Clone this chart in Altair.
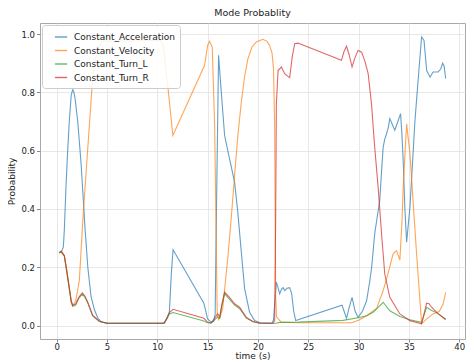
import altair as alt
import pandas as pd

series_names = ["Constant_Acceleration", "Constant_Velocity", "Constant_Turn_L", "Constant_Turn_R"]
series_colors = ["#1f77b4", "#ff7f0e", "#2ca02c", "#d62728"]

t_acc = [0.27, 0.5, 0.67, 0.77, 0.93, 1.1, 1.26, 1.45, 1.6, 1.72, 1.83, 2.1, 2.43, 2.83, 3.1, 3.42, 3.75, 4.1, 4.5, 5.0,
         10.5, 10.7, 11.0, 11.2, 11.4, 11.57, 14.63, 15.0, 15.35, 15.6, 15.75, 15.9, 16.09, 16.36, 16.69, 17.18, 17.68, 18.0,
         18.35, 18.68, 19.17, 19.67, 20.2, 21.4, 21.55, 21.7, 21.83, 22.0, 22.16, 22.35, 22.5, 22.66, 22.9, 23.15, 23.35,
         23.55, 23.75, 28.35, 28.55, 28.8, 29.05, 29.35, 29.65, 29.95, 30.4, 30.8, 31.1, 31.3, 31.6, 32.1, 32.3, 32.44,
         32.6, 32.78, 32.95, 33.1, 33.35, 33.6, 33.9, 34.17, 34.3, 34.43, 34.6, 34.77, 35.1, 35.6, 36.0, 36.26, 36.5,
         36.76, 37.1, 37.4, 37.9, 38.15, 38.35, 38.5, 38.65]
p_acc = [0.25, 0.255, 0.27, 0.33, 0.475, 0.6, 0.70, 0.79, 0.81, 0.8, 0.78, 0.70, 0.556, 0.33, 0.2, 0.1, 0.055, 0.025, 0.012, 0.008,
         0.008, 0.011, 0.025, 0.045, 0.18, 0.26, 0.077, 0.023, 0.012, 0.015, 0.04, 0.45, 0.927, 0.80, 0.652, 0.572, 0.492, 0.389,
         0.252, 0.126, 0.046, 0.017, 0.01, 0.008, 0.02, 0.09, 0.149, 0.13, 0.109, 0.125, 0.13, 0.12, 0.128, 0.13, 0.11,
         0.05, 0.017, 0.07, 0.05, 0.025, 0.06, 0.097, 0.05, 0.028, 0.05, 0.086, 0.15, 0.2, 0.315, 0.43, 0.54, 0.612,
         0.64, 0.658, 0.68, 0.71, 0.69, 0.67, 0.7, 0.727, 0.66, 0.566, 0.4, 0.286, 0.406, 0.704, 0.88, 0.99, 0.978,
         0.875, 0.852, 0.87, 0.87, 0.88, 0.9, 0.89, 0.847]

t_vel = [0.27, 0.5, 0.77, 1.0, 1.26, 1.45, 1.6, 1.9, 2.26, 2.6, 3.1, 3.58, 4.0, 4.5, 10.3, 10.6, 11.05, 11.55, 14.7, 15.0,
         15.2, 15.46, 15.7, 15.96, 16.1, 16.25, 16.5, 17.0, 17.35, 17.68, 18.0, 18.35, 18.7, 19.0, 19.4, 19.84, 20.5, 20.9,
         21.16, 21.4, 21.55, 21.66, 21.76, 21.85, 22.3, 24.0, 29.3, 30.0, 30.8, 31.8, 32.44, 32.94, 33.43, 33.77, 34.1,
         34.3, 34.43, 34.77, 35.1, 35.76, 36.26, 36.76, 37.4, 38.0, 38.4, 38.65]
p_vel = [0.25, 0.255, 0.24, 0.19, 0.13, 0.085, 0.068, 0.085, 0.155, 0.36, 0.61, 0.85, 0.94, 0.975, 0.978, 0.96, 0.82, 0.652, 0.893, 0.961,
         0.975, 0.955, 0.687, 0.034, 0.02, 0.03, 0.06, 0.23, 0.37, 0.515, 0.65, 0.767, 0.86, 0.915, 0.955, 0.973, 0.982, 0.975,
         0.961, 0.935, 0.88, 0.687, 0.1, 0.03, 0.012, 0.01, 0.01, 0.018, 0.034, 0.06, 0.12, 0.18, 0.246, 0.257, 0.225,
         0.35, 0.475, 0.692, 0.59, 0.246, 0.006, 0.023, 0.04, 0.048, 0.074, 0.114]

t_tl = [0.27, 0.45, 0.77, 1.0, 1.26, 1.45, 1.6, 1.9, 2.2, 2.55, 2.8, 3.1, 3.58, 4.25, 5.0, 10.7, 11.2, 11.57, 14.63, 15.0,
        15.35, 15.7, 16.0, 16.2, 16.4, 16.69, 17.18, 17.68, 18.18, 18.85, 19.5, 20.2, 21.8, 22.16, 24.0, 28.46, 30.1,
        30.8, 31.45, 31.8, 32.44, 33.1, 34.1, 35.1, 36.26, 36.76, 37.25, 37.9, 38.65]
p_tl = [0.25, 0.252, 0.238, 0.185, 0.125, 0.08, 0.066, 0.07, 0.093, 0.108, 0.098, 0.077, 0.033, 0.014, 0.008, 0.008, 0.04, 0.045, 0.016, 0.01,
        0.008, 0.02, 0.03, 0.025, 0.065, 0.11, 0.09, 0.07, 0.058, 0.026, 0.013, 0.008, 0.008, 0.011, 0.012, 0.018, 0.028,
        0.034, 0.046, 0.057, 0.08, 0.051, 0.031, 0.02, 0.011, 0.063, 0.052, 0.042, 0.02]

t_tr = [0.27, 0.45, 0.77, 1.0, 1.26, 1.45, 1.6, 1.9, 2.2, 2.55, 2.8, 3.1, 3.58, 4.25, 5.0, 10.7, 11.2, 11.57, 14.63, 15.0,
        15.35, 15.7, 16.0, 16.2, 16.4, 16.69, 17.18, 17.68, 18.18, 18.85, 19.5, 20.2, 21.5, 21.66, 21.76, 21.83, 22.0,
        22.33, 22.66, 23.15, 23.4, 23.65, 23.98, 24.15, 28.3, 28.55, 28.8, 29.05, 29.35, 29.65, 29.95, 30.3, 30.6, 30.95,
        31.28, 31.6, 31.94, 32.28, 32.6, 33.1, 34.1, 35.1, 36.26, 36.5, 36.76, 37.0, 37.25, 37.9, 38.65]
p_tr = [0.25, 0.255, 0.24, 0.19, 0.13, 0.085, 0.07, 0.074, 0.097, 0.112, 0.102, 0.08, 0.036, 0.015, 0.008, 0.008, 0.045, 0.056, 0.025, 0.012,
        0.009, 0.026, 0.04, 0.03, 0.07, 0.115, 0.097, 0.075, 0.063, 0.028, 0.014, 0.008, 0.008, 0.017, 0.36, 0.76, 0.875,
        0.887, 0.864, 0.85, 0.92, 0.967, 0.969, 0.967, 0.91, 0.94, 0.958, 0.93, 0.887, 0.92, 0.944, 0.938, 0.91, 0.864,
        0.761, 0.612, 0.475, 0.315, 0.177, 0.097, 0.04, 0.017, 0.006, 0.04, 0.077, 0.075, 0.063, 0.04, 0.022]

x_ticks = [0, 5, 10, 15, 20, 25, 30, 35, 40]
y_ticks = [0.0, 0.2, 0.4, 0.6, 0.8, 1.0]

frames = []
for name, tt, pp in zip(series_names, [t_acc, t_vel, t_tl, t_tr], [p_acc, p_vel, p_tl, p_tr]):
    f = pd.DataFrame({"t": tt, "p": pp})
    f["series"] = name
    frames.append(f)
df = pd.concat(frames, ignore_index=True)

FONT = "DejaVu Sans"
TXT = "#222222"

chart = alt.Chart(df).mark_line(strokeWidth=1.1, opacity=0.7, clip=True).encode(
    x=alt.X("t:Q", title="time (s)",
            scale=alt.Scale(domain=[-1.65, 40.57], nice=False, zero=False),
            axis=alt.Axis(values=x_ticks, format="d", titlePadding=0, labelPadding=0.5, tickSize=3)),
    y=alt.Y("p:Q", title="Probability",
            scale=alt.Scale(domain=[-0.046, 1.038], nice=False, zero=False),
            axis=alt.Axis(values=y_ticks, format=".1f", titlePadding=4, labelPadding=2)),
    color=alt.Color("series:N", sort=series_names,
                    scale=alt.Scale(domain=series_names, range=series_colors),
                    legend=alt.Legend(title=None, orient="top-left", offset=2, padding=5,
                                      fillColor="rgba(255,255,255,0.85)", strokeColor="#cccccc",
                                      cornerRadius=3, symbolType="stroke", symbolSize=150,
                                      symbolStrokeWidth=1.4, symbolOffset=7, labelOffset=6,
                                      labelFontSize=9, labelFont=FONT, labelColor=TXT,
                                      rowPadding=1.5, symbolOpacity=0.7)),
    order=alt.Order("t:Q"),
).properties(
    width=425, height=316,
    title=alt.TitleParams("Mode Probablity", fontSize=9.5, font=FONT, color=TXT,
                          fontWeight="normal", anchor="middle", frame="group", offset=6),
    padding={"left": 32, "top": 15, "right": 1, "bottom": 25},
    autosize=alt.AutoSizeParams(type="none"),
).configure_view(
    stroke="#a8a8a8", strokeWidth=1
).configure_axis(
    domain=False, grid=True, gridColor="#e2e2e2", gridWidth=0.8,
    tickColor="#888888", tickSize=3.5,
    labelFont=FONT, labelFontSize=8.5, labelColor=TXT,
    titleFont=FONT, titleFontSize=9, titleColor=TXT, titleFontWeight="normal",
)

chart.save("out.html", embed_options={"renderer": "svg", "actions": False})
